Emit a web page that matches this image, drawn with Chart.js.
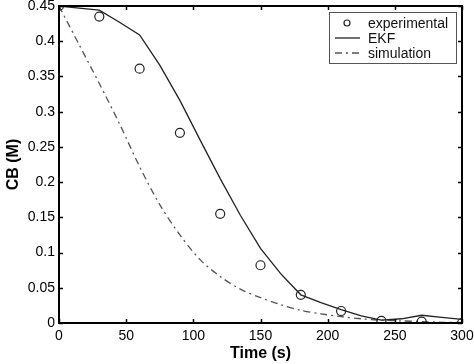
<!DOCTYPE html>
<html>
<head>
<meta charset="utf-8">
<script src="https://cdn.jsdelivr.net/npm/chart.js@4"></script>
<style>
  html, body { margin: 0; padding: 0; background: #fff; }
  canvas { display: block; }
</style>
</head>
<body>
<canvas id="myChart" width="474" height="364"></canvas>
<script>
'use strict';

// experimental samples
const expTime = [0, 30, 60, 90, 120, 150, 180, 210, 240, 270, 300];
const expCB = [0.45, 0.435, 0.361, 0.27, 0.155, 0.082, 0.04, 0.017, 0.003, 0.002, 0.0];

// EKF estimate
const ekfTime = [0, 15, 30, 45, 60, 75, 90, 105, 120, 135, 150, 165, 180, 195, 210, 225, 240, 255, 270, 285, 300];
const ekfCB = [0.45, 0.447, 0.444, 0.427, 0.409, 0.366, 0.316, 0.26, 0.205, 0.153, 0.106, 0.07, 0.04, 0.029, 0.019, 0.01, 0.004, 0.006, 0.011, 0.008, 0.005];

// open loop simulation
const simTime = [0, 15, 30, 45, 60, 75, 90, 105, 120, 135, 150, 165, 180, 195, 210, 225, 240, 255, 270, 285, 300];
const simCB = [0.45, 0.395, 0.34, 0.283, 0.222, 0.168, 0.125, 0.09, 0.066, 0.048, 0.036, 0.026, 0.018, 0.013, 0.009, 0.006, 0.004, 0.003, 0.002, 0.001, 0.001];

const xTicks = [0, 50, 100, 150, 200, 250, 300];
const yTicks = [0, 0.05, 0.1, 0.15, 0.2, 0.25, 0.3, 0.35, 0.4, 0.45];

const legendLabels = ['experimental', 'EKF', 'simulation'];

const FONT = "'Liberation Sans', Arial, sans-serif";

const toPoints = (xs, ys) => xs.map((x, i) => ({ x: x, y: ys[i] }));

// frame box with inward ticks, like matlab axes
const framePlugin = {
  id: 'frame',
  afterDatasetsDraw(chart) {
    const { ctx, chartArea: a, scales } = chart;
    ctx.save();
    ctx.strokeStyle = '#000';
    ctx.lineWidth = 1.5;
    const tl = 4;
    ctx.beginPath();
    xTicks.forEach(v => {
      const px = Math.round(scales.x.getPixelForValue(v)) + 0.5;
      ctx.moveTo(px, a.bottom); ctx.lineTo(px, a.bottom - tl);
      ctx.moveTo(px, a.top); ctx.lineTo(px, a.top + tl);
    });
    yTicks.forEach(v => {
      const py = Math.round(scales.y.getPixelForValue(v)) + 0.5;
      ctx.moveTo(a.left, py); ctx.lineTo(a.left + tl, py);
      ctx.moveTo(a.right, py); ctx.lineTo(a.right - tl, py);
    });
    ctx.stroke();
    ctx.lineWidth = 2;
    ctx.strokeRect(a.left, a.top, a.right - a.left, a.bottom - a.top);
    ctx.restore();
  }
};

// boxed legend in upper right corner
const legendPlugin = {
  id: 'boxLegend',
  afterDraw(chart) {
    const { ctx, chartArea: a } = chart;
    const bx = a.right - 133, by = a.top + 6, bw = 127, bh = 51;
    ctx.save();
    ctx.fillStyle = '#fff';
    ctx.fillRect(bx, by, bw, bh);
    ctx.strokeStyle = '#555';
    ctx.lineWidth = 1;
    ctx.strokeRect(bx + 0.5, by + 0.5, bw, bh);
    ctx.font = '14px ' + FONT;
    ctx.textBaseline = 'middle';
    ctx.fillStyle = '#111';
    chart.data.datasets.forEach((ds, i) => {
      const y = by + 11 + i * 15;
      ctx.strokeStyle = ds.borderColor;
      ctx.lineWidth = ds.borderWidth || 1;
      if (ds.showLine === false) {
        ctx.beginPath();
        ctx.arc(bx + 18, y, 3, 0, Math.PI * 2);
        ctx.stroke();
      } else {
        ctx.setLineDash(ds.borderDash || []);
        ctx.beginPath();
        ctx.moveTo(bx + 6, y);
        ctx.lineTo(bx + 31, y);
        ctx.stroke();
        ctx.setLineDash([]);
      }
      ctx.fillText(legendLabels[i], bx + 39, y + 1);
    });
    ctx.restore();
  }
};

const config = {
  type: 'scatter',
  data: {
    datasets: [{
      label: legendLabels[0],
      data: toPoints(expTime, expCB),
      showLine: false,
      pointRadius: 4.5,
      pointStyle: 'circle',
      borderColor: '#222',
      backgroundColor: 'rgba(0,0,0,0)',
      pointBorderWidth: 1.2,
      borderWidth: 1.2
    }, {
      label: legendLabels[1],
      data: toPoints(ekfTime, ekfCB),
      showLine: true,
      pointRadius: 0,
      borderColor: '#222',
      borderWidth: 1.3,
      tension: 0
    }, {
      label: legendLabels[2],
      data: toPoints(simTime, simCB),
      showLine: true,
      pointRadius: 0,
      borderColor: '#555',
      borderWidth: 1.3,
      borderDash: [7, 4, 2, 4],
      tension: 0.3
    }]
  },
  options: {
    responsive: false,
    animation: false,
    layout: { padding: { top: 6, right: 12, left: 0, bottom: 0 } },
    plugins: {
      legend: { display: false },
      tooltip: { enabled: false }
    },
    scales: {
      x: {
        type: 'linear',
        min: 0,
        max: 300,
        afterBuildTicks: s => { s.ticks = xTicks.map(v => ({ value: v })); },
        afterFit: s => { s.height = 41; s.paddingLeft = 0; s.paddingRight = 0; },
        grid: { display: false, drawTicks: false },
        border: { display: false },
        ticks: { padding: 5, color: '#000', font: { family: FONT, size: 14 }, maxRotation: 0 },
        title: {
          display: true,
          text: 'Time (s)',
          color: '#000',
          font: { family: FONT, size: 16, weight: 'bold' },
          padding: { top: 0, bottom: 1 }
        }
      },
      y: {
        min: 0,
        max: 0.45,
        afterBuildTicks: s => { s.ticks = yTicks.map(v => ({ value: v })); },
        afterFit: s => { s.width = 59; s.paddingTop = 0; s.paddingBottom = 0; },
        grid: { display: false, drawTicks: false },
        border: { display: false },
        ticks: {
          padding: 4,
          color: '#000',
          font: { family: FONT, size: 14 },
          callback: v => String(+Number(v).toFixed(2))
        },
        title: {
          display: true,
          text: 'CB (M)',
          color: '#000',
          font: { family: FONT, size: 16, weight: 'bold' },
          padding: { top: 4, bottom: 0 }
        }
      }
    }
  },
  plugins: [framePlugin, legendPlugin]
};

const myChart = new Chart(document.getElementById('myChart'), config);
</script>
</body>
</html>
